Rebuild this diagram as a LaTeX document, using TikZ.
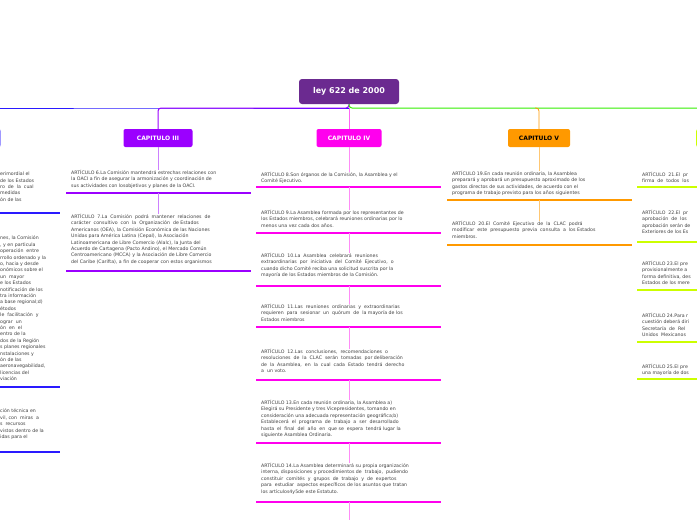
\documentclass[tikz,border=0pt]{standalone}
\usepackage{fontspec}
\setmainfont{DejaVu Sans}
\begin{document}
\begin{tikzpicture}[x=1pt,y=-1pt,
 art/.style={anchor=north west,inner sep=0pt,align=left,font=\fontsize{4.7}{6.4}\selectfont,text=black!75},
 capbox/.style={rounded corners=2pt,minimum height=18pt,font=\fontsize{6}{7}\selectfont\bfseries,inner sep=3pt},
 barIII/.style={line width=2.2pt,color=cIII},
 barIV/.style={line width=2.2pt,color=cIV},
 barV/.style={line width=2.2pt,color=cV},
 barVI/.style={line width=2.2pt,color=cVI},
 barII/.style={line width=2.2pt,color=cII},
 lnIII/.style={line width=0.6pt,color=cIII!50},
 lnIV/.style={line width=0.6pt,color=cIV!45},
 lnV/.style={line width=0.6pt,color=cV!55},
]
\definecolor{cRoot}{HTML}{6B2A90}
\definecolor{cIII}{HTML}{9B00FF}
\definecolor{cIV}{HTML}{FF00EE}
\definecolor{cV}{HTML}{FF9900}
\definecolor{cVI}{HTML}{CCFF00}
\definecolor{cII}{HTML}{2A1AFF}
\definecolor{cGreen}{HTML}{33EE00}
\useasboundingbox (0,0) rectangle (697,520);
\clip (0,0) rectangle (697,520);

% root
\node[rounded corners=3pt,fill=cRoot,text=white,minimum width=100pt,minimum height=25pt,font=\fontsize{8}{9}\selectfont\bfseries] (root) at (349,91.5) {ley 622 de 2000};
\coordinate (jn) at (349,108);

% chapter boxes
\node[capbox,fill=cIII,text=white,minimum width=69pt] (c3) at (158,138) {CAPITULO III};
\node[capbox,fill=cIV,text=white,minimum width=65pt] (c4) at (349,138) {CAPITULO IV};
\node[capbox,fill=cV,text=black,minimum width=62pt] (c5) at (539,138) {CAPITULO V};
\node[capbox,fill=cVI,minimum width=30pt,anchor=west] (c6) at (696,138) {};
\node[capbox,fill=cII!45,minimum width=30pt,anchor=east] (c2) at (1,138) {};

% trunk lines
\draw[line width=1pt,color=cII] (jn) -- (160,108) -| (c2.north);
\draw[line width=1pt,color=cIII,rounded corners=3pt] (root.south) -- (jn) -| (c3.north);
\draw[line width=1pt,color=cGreen,rounded corners=3pt] (root.south) -- (jn) -- (697,108);
\draw[line width=0.8pt,color=cV,rounded corners=3pt] (535,108) -| (c5.north);
\draw[line width=0.8pt,color=cIV!60] (jn) -- (c4.north);

% Capitulo III
\node[art] (a6) at (71,170) {ARTÍCULO 6.La Comisión mantendrá estrechas relaciones con\\la OACI a fin de asegurar la armonización y coordinación de\\sus actividades con losobjetivos y planes de la OACI.};
\node[art] (a7) at (71,214) {ARTÍCULO \ 7.La \ Comisión \ podrá \ mantener \ relaciones \ de\\carácter \ consultivo \ con \ la \ Organización \ de Estados\\Americanos (OEA), la Comisión Económica de las Naciones\\Unidas para América Latina (Cepal), la Asociación\\Latinoamericana de Libre Comercio (Alalc), la Junta del\\Acuerdo de Cartagena (Pacto Andino), el Mercado Común\\Centroamericano (MCCA) y la Asociación de Libre Comercio\\del Caribe (Carifta), a fin de cooperar con estos organismos};
\coordinate (b6) at (158,193); \coordinate (b7) at (158,271);
\draw[barIII] (66,193) -- (251,193);
\draw[barIII] (66,271) -- (251,271);
\draw[lnIII] (c3.south) -- (c3.south |- a6.north);
\draw[lnIII] (b6) -- (b6 |- a7.north);

% Capitulo IV
\node[art] (a8) at (261,172) {ARTÍCULO 8.Son órganos de la Comisión, la Asamblea y el\\Comité Ejecutivo.};
\node[art] (a9) at (261,210) {ARTÍCULO 9.La Asamblea formada por los representantes de\\los Estados miembros, celebrará reuniones ordinarias por lo\\menos una vez cada dos años.};
\node[art] (a10) at (261,253) {ARTÍCULO \ 10.La \ Asamblea \ celebrará \ reuniones\\extraordinarias \ por \ iniciativa \ del \ Comité \ Ejecutivo, \ o\\cuando dicho Comité reciba una solicitud suscrita por la\\mayoría de los Estados miembros de la Comisión.};
\node[art] (a11) at (261,304) {ARTÍCULO \ 11.Las \ reuniones \ ordinarias \ y \ extraordinarias\\requieren \ para \ sesionar \ un \ quórum \ de \ la mayoría de los\\Estados miembros};
\node[art] (a12) at (261,349) {ARTÍCULO \ 12.Las \ conclusiones, \ recomendaciones \ o\\resoluciones \ de \ la \ CLAC \ serán \ tomadas \ por deliberación\\de \ la \ Asamblea, \ en \ la \ cual \ cada \ Estado \ tendrá \ derecho\\a \ un voto.};
\node[art] (a13) at (261,400) {ARTÍCULO 13.En cada reunión ordinaria, la Asamblea a)\\Elegirá su Presidente y tres Vicepresidentes, tomando en\\consideración una adecuada representación geográfica;b)\\Establecerá \ el \ programa \ de \ trabajo \ a \ ser \ desarrollado\\hasta \ el \ final \ del \ año \ en \ que se \ espera \ tendrá lugar la\\siguiente Asamblea Ordinaria.};
\node[art] (a14) at (261,463) {ARTÍCULO 14.La Asamblea determinará su propia organización\\interna, disposiciones y procedimientos de \ trabajo, \ pudiendo\\constituir \ comités \ y \ grupos \ de \ trabajo \ y \ de \ expertos\\para \ estudiar \ aspectos específicos de los asuntos que tratan\\los artículos4y5de este Estatuto.};
\foreach \y/\n in {187/b8,233/b9,286/b10,327/b11,380/b12,443/b13,502/b14}{
  \draw[barIV] (256,\y) -- (441,\y); \coordinate (\n) at (349,\y);}
\draw[lnIV] (c4.south) -- (c4.south |- a8.north);
\draw[lnIV] (b8) -- (b8 |- a9.north);
\draw[lnIV] (b9) -- (b9 |- a10.north);
\draw[lnIV] (b10) -- (b10 |- a11.north);
\draw[lnIV] (b11) -- (b11 |- a12.north);
\draw[lnIV] (b12) -- (b12 |- a13.north);
\draw[lnIV] (b13) -- (b13 |- a14.north);
\draw[lnIV] (b14) -- (349,520);

% Capitulo V
\node[art] (a19) at (452,171) {ARTÍCULO 19.En cada reunión ordinaria, la Asamblea\\preparará y aprobará un presupuesto aproximado de los\\gastos directos de sus actividades, de acuerdo con el\\programa de trabajo previsto para los años siguientes};
\node[art] (a20) at (452,221) {ARTÍCULO \ 20.El \ Comité \ Ejecutivo \ de \ la \ CLAC \ podrá\\modificar \ este \ presupuesto \ previa \ consulta \ a \ los Estados\\miembros.};
\coordinate (b19) at (539,200);
\draw[barV] (447,200) -- (632,200);
\draw[barV] (447,245) -- (632,245);
\draw[lnV] (c5.south) -- (c5.south |- a19.north);
\draw[lnV] (b19) -- (b19 |- a20.north);

% right column (cut)
\node[art] (a21) at (642,172) {ARTÍCULO \ 21.El \ pr\\firma \ de \ todos \ los};
\node[art] (a22) at (642,210) {ARTÍCULO \ 22.El \ pr\\aprobación \ de \ los\\aprobación serán de\\Exteriores de los Es};
\node[art] (a23) at (642,261) {ARTÍCULO 23.El pre\\provisionalmente a\\forma definitiva, des\\Estados de los mere};
\node[art] (a24) at (642,313) {ARTÍCULO 24.Para r\\cuestión deberá diri\\Secretaría \ de \ Rel\\Unidos \ Mexicanos};
\node[art] (a25) at (642,364) {ARTÍCULO 25.El pre\\una mayoría de dos};
\foreach \y in {187,242,290,342,379}{\draw[barVI] (637,\y) -- (697,\y);}

% left column (cut)
\node[art] (l1) at (0,172) {erimordial el\\de los Estados\\ro \ de \ la \ cual\\medidas\\ón de las};
\node[art] (l2) at (0,236) {nes, la Comisión\\, y en particula\\operación \ entre\\rrollo ordenado y la\\o, hacia y desde\\onómicos sobre el\\un \ mayor\\e los Estados\\notificación de los\\tra información\\a base regional;d)\\étodos\\le \ facilitación \ y\\ograr \ un\\ón \ en \ el\\entro de la\\dos de la Región\\s planes regionales\\nstalaciones y\\ón de las\\aeronavegabilidad,\\licencias del\\viación};
\node[art] (l3) at (0,409) {ción técnica en\\vil, con \ miras \ a\\s \ recursos\\vistos dentro de la\\idas para el};
\foreach \y in {213,387,452}{\draw[barII] (0,\y) -- (60,\y);}
\end{tikzpicture}
\end{document}
